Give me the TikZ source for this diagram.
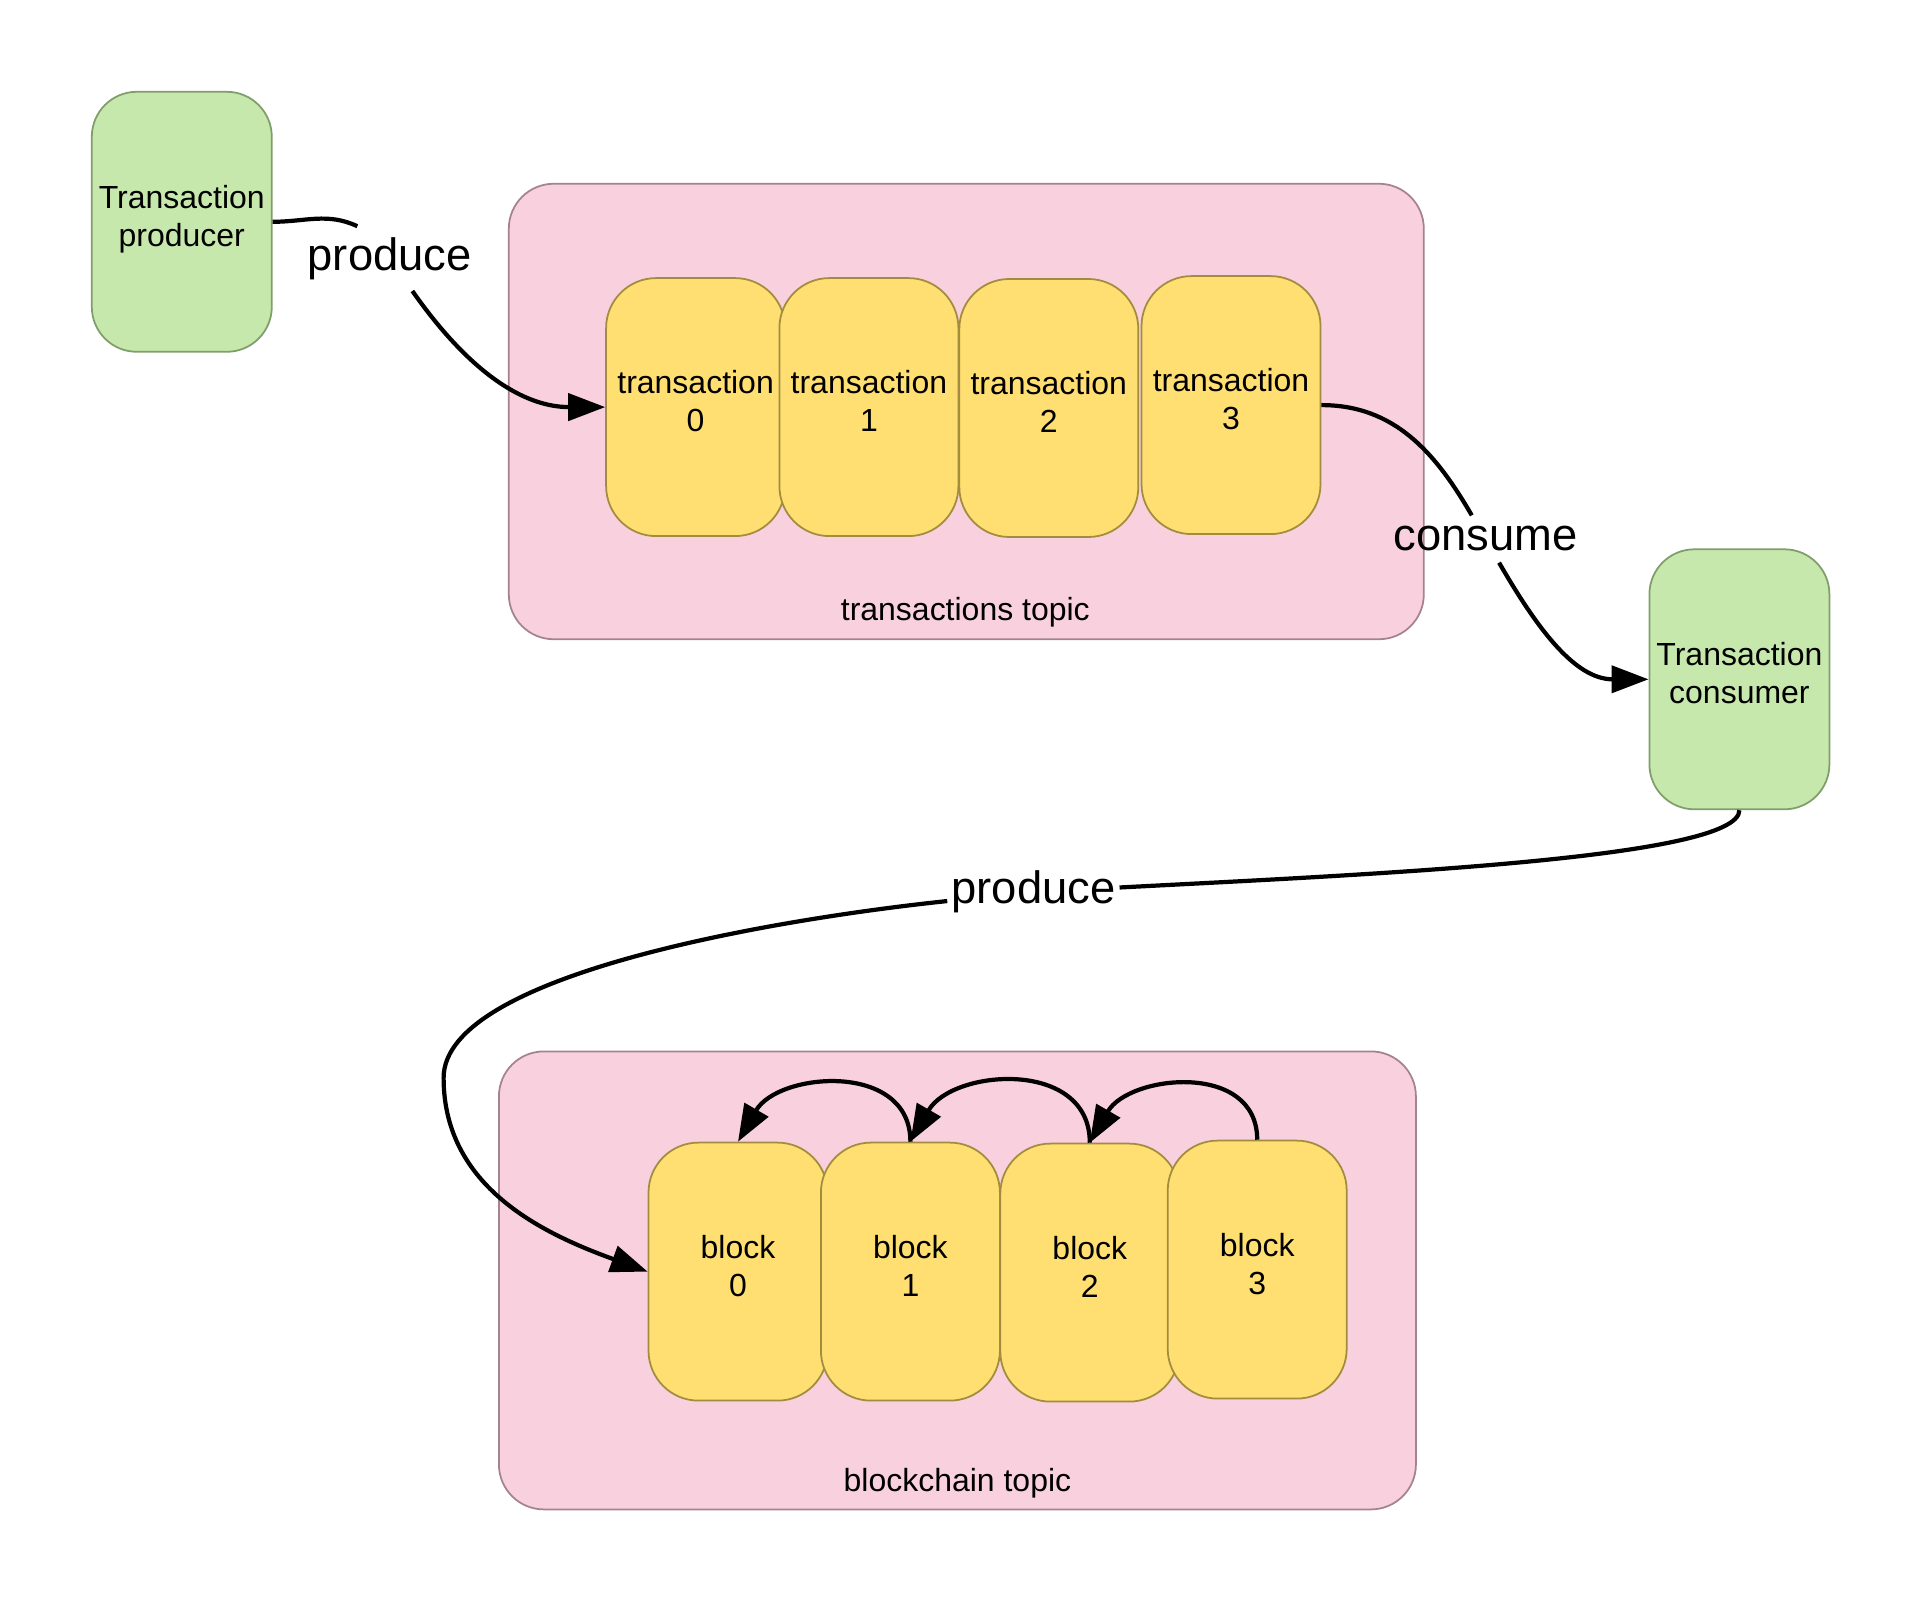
\documentclass[tikz,border=0pt]{standalone}
\usepackage{fontspec}
\setmainfont{Liberation Sans}
\usetikzlibrary{arrows.meta}

\definecolor{clientgreen}{HTML}{C7E8AC}
\definecolor{clientline}{HTML}{7F9E6B}
\definecolor{topicpink}{HTML}{F9D1DE}
\definecolor{topicline}{HTML}{A4838F}
\definecolor{msgyellow}{HTML}{FFDF71}
\definecolor{msgline}{HTML}{A28C3E}

\tikzset{
	client/.style={draw=clientline, fill=clientgreen, line width=0.5pt, rounded corners=0.45cm, inner sep=1pt,
		minimum width=1.80cm, minimum height=2.60cm, align=center, text depth=0.12cm, font=\fontsize{9.1}{10.8}\selectfont},
	topic/.style={draw=topicline, fill=topicpink, line width=0.5pt, rounded corners=0.45cm},
	msg/.style={draw=msgline, fill=msgyellow, line width=0.5pt, rounded corners=0.5cm, inner sep=1pt,
		minimum width=1.79cm, minimum height=2.58cm, align=center, text depth=0.12cm, font=\fontsize{9.1}{10.8}\selectfont},
	caption/.style={font=\fontsize{9.1}{10.8}\selectfont},
	lbl/.style={inner sep=3pt, font=\fontsize{12.9}{15}\selectfont},
	line/.style={line width=1.2pt},
	flow/.style={line, -{Triangle[length=0.37cm, width=0.27cm]}}
}

\begin{document}
\begin{tikzpicture}
	\useasboundingbox (0,0) rectangle (19.2,-16.03);

	\node[client] (prod) at (1.818,-2.218) {Transaction\\producer};
	\node[client] (cons) at (17.394,-6.793) {Transaction\\consumer};

	\node[topic, minimum width=9.15cm, minimum height=4.555cm] (txtopic) at (9.663,-4.115) {};
	\node[caption] at (9.653,-6.126) {transactions topic};
	\foreach \i/\x/\y in {0/6.956/-4.071, 1/8.689/-4.071, 2/10.488/-4.08, 3/12.31/-4.051}
		\node[msg] (t\i) at (\x,\y) {transaction\\\i};

	\node[topic, minimum width=9.17cm, minimum height=4.58cm] (bctopic) at (9.574,-12.804) {};
	\node[caption] at (9.574,-14.83) {blockchain topic};
	\foreach \i/\x/\y in {0/7.380/-12.716, 1/9.104/-12.716, 2/10.898/-12.726, 3/12.572/-12.696}
		\node[msg] (b\i) at (\x,\y) {block\\\i};

	\node[lbl] (prodlbl) at (3.897,-2.586) {produce};
	\node[lbl] (conslbl) at (14.854,-5.39) {consume};
	\node[lbl, inner xsep=1pt] (blocklbl) at (10.334,-8.92) {produce};
	\coordinate (swing) at (4.436,-10.779);

	\draw[line] (prod.east) to[out=0, in=155] (prodlbl.135);
	\draw[flow] (prodlbl) to[out=-55, in=180] (t0.west);

	\draw[line] (t3.east) to[out=0, in=120] (conslbl);
	\draw[flow] (conslbl) to[out=-60, in=180] (cons.west);

	\draw[line] (cons.south) to[out=-90, in=3, out looseness=0.2] (blocklbl);
	\draw[flow] (blocklbl) to[out=186, in=90, out looseness=0.8, in looseness=0.5] (swing)
		to[out=-90, in=160] (b0.west);

	\draw[flow] (b1.north) to[out=90, in=60, looseness=1.2] (b0.north);
	\draw[flow] (b2.north) to[out=90, in=60, looseness=1.2] (b1.north);
	\draw[flow] (b3.north) to[out=90, in=60, looseness=1.2] (b2.north);
\end{tikzpicture}
\end{document}
